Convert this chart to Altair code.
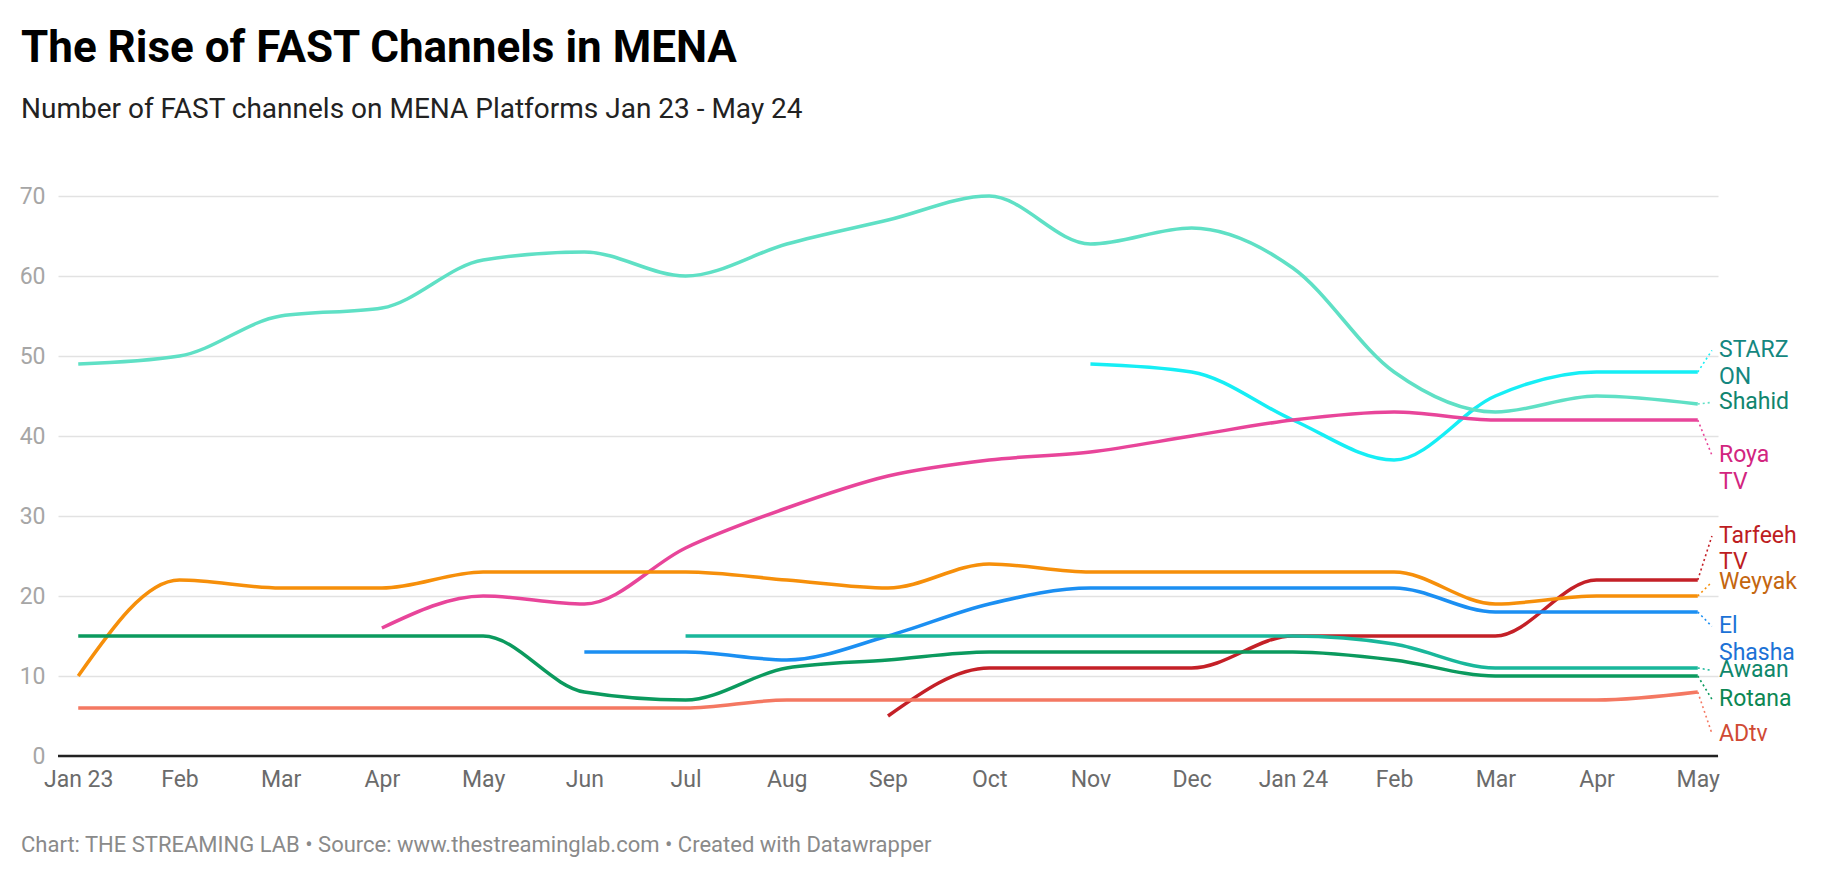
import altair as alt
import pandas as pd

months = ["Jan 23", "Feb", "Mar", "Apr", "May", "Jun", "Jul", "Aug", "Sep", "Oct",
          "Nov", "Dec", "Jan 24", "Feb", "Mar", "Apr", "May"]
tick_labels = ["Jan 23", "Feb", "Mar", "Apr", "May", "Jun", "Jul", "Aug", "Sep", "Oct",
               "Nov", "Dec", "Jan 24", "Feb", "Mar", "Apr", "May"]

N = None
shahid = [49, 50, 55, 56, 62, 63, 60, 64, 67, 70, 64, 66, 61, 48, 43, 45, 44]
starz_on = [N, N, N, N, N, N, N, N, N, N, 49, 48, 42, 37, 45, 48, 48]
roya_tv = [N, N, N, 16, 20, 19, 26, 31, 35, 37, 38, 40, 42, 43, 42, 42, 42]
weyyak = [10, 22, 21, 21, 23, 23, 23, 22, 21, 24, 23, 23, 23, 23, 19, 20, 20]
tarfeeh_tv = [N, N, N, N, N, N, N, N, 5, 11, 11, 11, 15, 15, 15, 22, 22]
el_shasha = [N, N, N, N, N, 13, 13, 12, 15, 19, 21, 21, 21, 21, 18, 18, 18]
awaan = [N, N, N, N, N, N, 15, 15, 15, 15, 15, 15, 15, 14, 11, 11, 11]
rotana = [15, 15, 15, 15, 15, 8, 7, 11, 12, 13, 13, 13, 13, 12, 10, 10, 10]
adtv = [6, 6, 6, 6, 6, 6, 6, 7, 7, 7, 7, 7, 7, 7, 7, 7, 8]

series_names = ["STARZ ON", "Shahid", "Roya TV", "Tarfeeh TV", "Weyyak",
                "El Shasha", "Awaan", "Rotana", "ADtv"]
series_values = [starz_on, shahid, roya_tv, tarfeeh_tv, weyyak, el_shasha, awaan, rotana, adtv]
line_colors = ["#16eef5", "#5fe0c5", "#e8459a", "#c42027", "#f68f0a",
               "#1b8ff2", "#19b79b", "#0b9a5e", "#f47862"]
label_colors = ["#14877f", "#10856e", "#d2257f", "#bd1d22", "#c4660f",
                "#1c72d6", "#0f876b", "#0c8753", "#d04a34"]

# label lines (split as displayed) and the data-value of each line's centre
label_lines = [["STARZ", "ON"], ["Shahid"], ["Roya", "TV"], ["Tarfeeh", "TV"], ["Weyyak"],
               ["El", "Shasha"], ["Awaan"], ["Rotana"], ["ADtv"]]
label_y = [[50.7, 47.4], [44.2], [37.6, 34.3], [27.5, 24.2], [21.75],
           [16.2, 12.9], [10.7], [7.1], [2.8]]

# ---- tables ----
rows = []
for name, vals in zip(series_names, series_values):
    for i, v in enumerate(vals):
        if v is not None:
            rows.append({"series": name, "idx": i, "value": v})
df = pd.DataFrame(rows)

lab_rows = []
con_rows = []
for name, lines, ys, vals in zip(series_names, label_lines, label_y, series_values):
    for t, y in zip(lines, ys):
        lab_rows.append({"series": name, "text": t, "y": y, "x": 16.2})
    con_rows.append({"series": name, "x": 16.0, "x2": 16.14, "y": vals[-1], "y2": ys[0]})
lab_df = pd.DataFrame(lab_rows)
con_df = pd.DataFrame(con_rows)

W, H = 1660, 560
x_scale = alt.Scale(domain=[-0.2, 16.2], nice=False, zero=False)
y_scale = alt.Scale(domain=[0, 70], nice=False)
color_scale = alt.Scale(domain=series_names, range=line_colors)

label_expr = "[" + ",".join("'" + m + "'" for m in tick_labels) + "][datum.value]"

x_axis = alt.Axis(values=list(range(17)), labelExpr=label_expr, title=None, grid=False,
                  domain=False, ticks=False, labelFontSize=23, labelColor="#6b6b6b",
                  labelPadding=12, labelFont="Roboto")
y_axis = alt.Axis(values=list(range(0, 71, 10)), title=None, grid=True, gridColor="#e2e2e2",
                  gridWidth=1.5, domain=False, ticks=False, labelFontSize=23,
                  labelColor="#a6a6a6", labelPadding=13, labelFont="Roboto")

base = alt.Chart(df)

lines = base.mark_line(interpolate="monotone", strokeWidth=3.5).encode(
    x=alt.X("idx:Q", scale=x_scale, axis=x_axis),
    y=alt.Y("value:Q", scale=y_scale, axis=y_axis),
    color=alt.Color("series:N", scale=color_scale, legend=None),
    detail="series:N",
)

zero_rule = alt.Chart(pd.DataFrame({"z": [0]})).mark_rule(color="#222222", strokeWidth=2.5).encode(
    y=alt.Y("z:Q", scale=y_scale)
)

connectors = alt.Chart(con_df).mark_rule(strokeWidth=1.6, strokeDash=[2, 3]).encode(
    x=alt.X("x:Q", scale=x_scale),
    x2="x2:Q",
    y=alt.Y("y:Q", scale=y_scale),
    y2="y2:Q",
    color=alt.Color("series:N", scale=color_scale, legend=None),
)

labels = alt.Chart(lab_df).mark_text(align="left", baseline="middle", fontSize=23,
                                     font="Roboto", dx=1).encode(
    x=alt.X("x:Q", scale=x_scale),
    y=alt.Y("y:Q", scale=y_scale),
    text="text:N",
    color=alt.Color("series:N", scale=alt.Scale(domain=series_names, range=label_colors),
                    legend=None),
)

footer = alt.Chart(pd.DataFrame({"t": ["Chart: THE STREAMING LAB \u2022 Source: www.thestreaminglab.com \u2022 Created with Datawrapper"]})).mark_text(
    align="left", baseline="middle", fontSize=22, font="Roboto", color="#8a8a8a"
).encode(
    x=alt.value(-37), y=alt.value(649), text="t:N"
)

chart = alt.layer(lines, zero_rule, connectors, labels, footer).resolve_scale(
    color="independent"
).properties(
    width=W, height=H,
    title=alt.TitleParams(
        text="The Rise of FAST Channels in MENA",
        subtitle="Number of FAST channels on MENA Platforms Jan 23 - May 24",
        anchor="start", frame="group", dx=-37, offset=61,
        font="Roboto", fontSize=44, fontWeight="bold", color="#000000",
        subtitleFont="Roboto", subtitleFontSize=28, subtitleColor="#222222",
        subtitlePadding=25,
    ),
).configure(
    autosize=alt.AutoSizeParams(type="none"),
    padding={"left": 58, "top": 196, "right": 122, "bottom": 126},
    background="white",
).configure_view(stroke="transparent", strokeWidth=0).configure_axisX(grid=False)

chart.save("out.html", embed_options={"renderer": "svg", "actions": False})
